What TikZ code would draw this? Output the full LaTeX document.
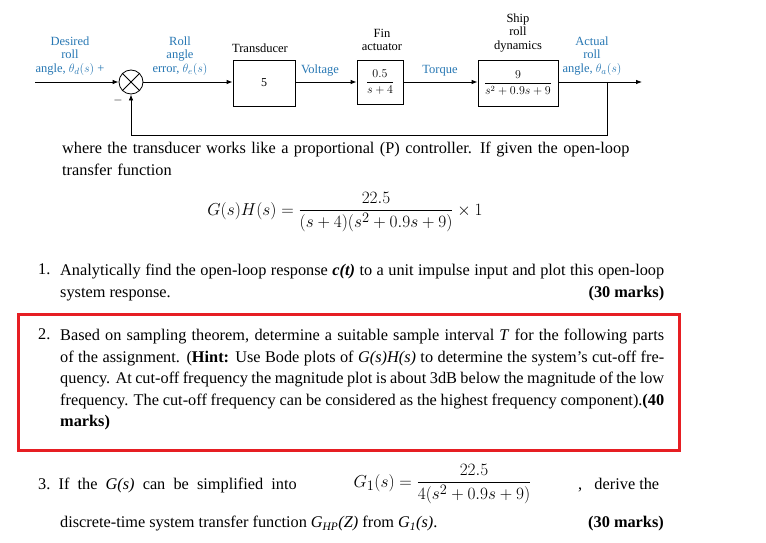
\documentclass[tikz,border=0pt]{standalone}
\usepackage{amsmath}
\usepackage{fontspec}
\setmainfont{Liberation Serif}
\usetikzlibrary{arrows.meta}
\definecolor{lblue}{RGB}{40,120,180}
\definecolor{rbox}{RGB}{230,30,35}
\begin{document}
\begin{tikzpicture}[x=1pt,y=-1pt,
  blk/.style={draw,thick,minimum height=46pt,inner sep=2pt,font=\fontsize{12}{13}\selectfont},
  sig/.style={-{Latex[length=6pt]},thick},
  bl/.style={font=\fontsize{12.5}{13.5}\selectfont,text=lblue,align=center},
  bk/.style={font=\fontsize{12.5}{13.5}\selectfont,align=center},
  body/.style={font=\fontsize{16.3}{21.5}\selectfont,anchor=north west,align=justify,inner sep=0}]
\useasboundingbox (0,0) rectangle (766,543);
\fill[white] (0,0) rectangle (766,543);
% block diagram
\coordinate (in) at (35,82);
\node[draw,thick,circle,minimum size=24pt,inner sep=0] (sum) at (131,82) {};
\draw[thick] (sum.north west)--(sum.south east) (sum.north east)--(sum.south west);
\node[blk,minimum width=62pt] (tr) at (264,83) {5};
\node[blk,minimum width=46pt,minimum height=44pt] (fin) at (380,82) {$\dfrac{0.5}{s+4}$};
\node[blk,minimum width=80pt] (ship) at (518,83) {$\dfrac{9}{s^2+0.9s+9}$};
\coordinate (out) at (642,82);
\coordinate (tap) at (607,82);
\coordinate (fb) at (607,135);
\coordinate (fb2) at (131,135);
\draw[sig] (in)--(sum.west);
\draw[sig] (sum.east)--(tr.west|-sum.east);
\draw[sig] (tr.east|-fin.west)--(fin.west);
\draw[sig] (fin.east)--(ship.west|-fin.east);
\draw[sig] (ship.east|-fin.east)--(out);
\draw[sig] (tap)--(fb)--(fb2)--(sum.south);
\node[bl] (l1) at (70,56) {Desired\\roll\\angle, $\theta_d(s)$ +};
\node[bl] (l2) at (180,56) {Roll\\angle\\error, $\theta_e(s)$};
\node[bk] (l3) at (260,48) {Transducer};
\node[bl] (l4) at (320,71) {Voltage};
\node[bk] (l5) at (382,40) {Fin\\actuator};
\node[bl] (l6) at (440,71) {Torque};
\node[bk] (l7) at (518,33) {Ship\\roll\\dynamics};
\node[bl] (l8) at (592,56) {Actual\\roll\\angle, $\theta_a(s)$};
\node[bk] (mn) at (118,100) {$-$};
% text
\node[body,text width=604pt,align=left] (t1) at (62,142) {where the transducer works like a proportional (P) controller. If given the open-loop transfer function};
\node[font=\fontsize{19}{22}\selectfont] (eq1) at (345,212) {$G(s)H(s)=\dfrac{22.5}{(s+4)(s^2+0.9s+9)}\times 1$};
\node[body] (n1) at (38,264) {1.};
\node[body,text width=604pt] (p1) at (60,264) {Analytically find the open-loop response \textit{\textbf{c(t)}} to a unit impulse input and plot this open-loop system response.\hfill\textbf{(30 marks)}};
\draw[rbox,line width=3pt] (18,314) rectangle (679,450);
\node[body] (n2) at (38,329) {2.};
\node[body,text width=604pt] (p2) at (60,329) {Based on sampling theorem, determine a suitable sample interval \textit{T} for the following parts of the assignment. (\textbf{Hint:} Use Bode plots of \textit{G(s)H(s)} to determine the system's cut-off frequency. At cut-off frequency the magnitude plot is about 3dB below the magnitude of the low frequency. The cut-off frequency can be considered as the highest frequency component).\hfill\textbf{(40 marks)}};
\node[body] (n3) at (38,478) {3.\ \ If \ the \ \textit{G(s)} \ can \ be \ simplified \ into};
\node[font=\fontsize{19}{22}\selectfont,anchor=west] (eq2) at (350,484) {$G_1(s)=\dfrac{22.5}{4(s^2+0.9s+9)}$};
\node[body] (p3b) at (578,478) {, \ \ derive the};
\node[body] (p3c) at (60,516) {discrete-time system transfer function \textit{G\textsubscript{HP}(Z)} from \textit{G\textsubscript{1}(s)}.};
\node[body,anchor=north east] (m3) at (664,516) {\textbf{(30 marks)}};
\end{tikzpicture}
\end{document}
